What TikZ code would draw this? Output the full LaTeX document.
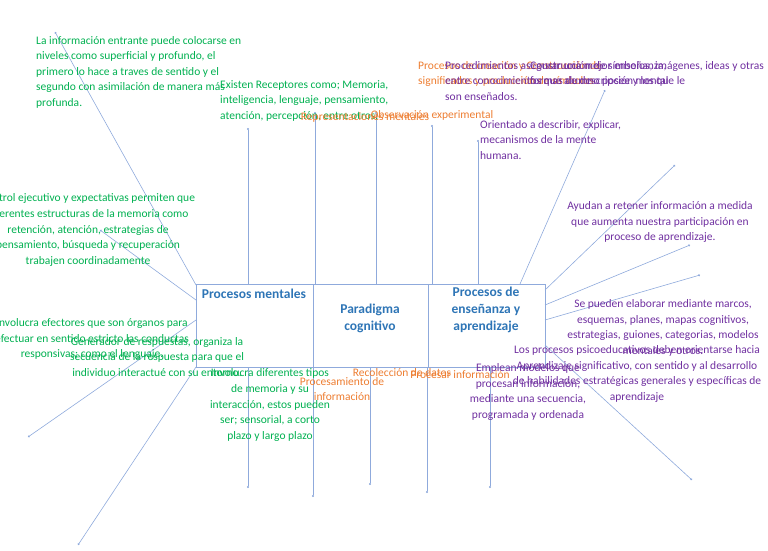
\documentclass[tikz,border=0pt]{standalone}
\usepackage{fontspec}
\usetikzlibrary{arrows.meta}
\setmainfont{Carlito}
\definecolor{gr}{RGB}{0,176,80}
\definecolor{orr}{RGB}{237,125,49}
\definecolor{pu}{RGB}{112,48,160}
\definecolor{bl}{RGB}{46,117,182}
\definecolor{ln}{RGB}{143,170,220}
\begin{document}
\begin{tikzpicture}[x=1pt,y=-1pt,
 txt/.style={font=\fontsize{11.5}{15.6}\selectfont,inner sep=0pt},
 g/.style={txt,text=gr}, o/.style={txt,text=orr}, p/.style={txt,text=pu},
 ttl/.style={font=\fontsize{13.5}{17}\selectfont\bfseries,text=bl,align=center,inner sep=0pt},
 con/.style={draw=ln,line width=0.6pt,-{Circle[length=2pt]}},
 boxl/.style={draw=ln,line width=0.8pt}]
\useasboundingbox (0,0) rectangle (768,550);
\node[boxl,minimum width=117pt,minimum height=83pt,anchor=north west] (bm) at (196,284) {};
\node[boxl,minimum width=115pt,minimum height=83pt,anchor=north west] (bp) at (313,284) {};
\node[boxl,minimum width=117pt,minimum height=83pt,anchor=north west] (be) at (428,284) {};
\node[ttl] (tm) at (254,294) {Procesos mentales};
\node[ttl] (tp) at (370,318) {Paradigma\\cognitivo};
\node[ttl] (te) at (486,310) {Procesos de\\enseñanza y\\aprendizaje};
% endpoints
\foreach \n/\x/\y in {e1/55/32,e2/100/230,e3/28/437,e4/78/545,t1/248/128,t2/315/112,t3/376/112,t4/432/125,t5/478/140,t6/605/90,r1/675/165,r2/690/245,r3/700/275,r4/692/480,b1/248/488,b2/313/497,b3/370/485,b4/427/493,b5/490/488}
 \coordinate (\n) at (\x,\y);
\draw[con] (196,285) -- (e1);
\draw[con] (196,300) -- (e2);
\draw[con] (196,320) -- (e3);
\draw[con] (196,367) -- (e4);
\draw[con] (248,284) -- (t1);
\draw[con] (315,284) -- (t2);
\draw[con] (376,284) -- (t3);
\draw[con] (432,284) -- (t4);
\draw[con] (478,284) -- (t5);
\draw[con] (520,284) -- (t6);
\draw[con] (545,290) -- (r1);
\draw[con] (545,305) -- (r2);
\draw[con] (545,320) -- (r3);
\draw[con] (545,345) -- (r4);
\draw[con] (248,367) -- (b1);
\draw[con] (313,367) -- (b2);
\draw[con] (370,367) -- (b3);
\draw[con] (427,367) -- (b4);
\draw[con] (490,367) -- (b5);
% texts
\node[g,align=left,anchor=north west] (x1) at (36,36) {La información entrante puede colocarse en\\niveles como superficial y profundo, el\\primero lo hace a traves de sentido y el\\segundo con asimilación de manera más\\profunda.};
\node[g,align=left,anchor=north west] (x2) at (220,80) {Existen Receptores como; Memoria,\\inteligencia, lenguaje, pensamiento,\\atención, percepción, entre otros.};
\node[o] (x3) at (365,117) {Representaciones mentales};
\node[o] (x4) at (432,115) {Observación experimental};
\node[o,align=left,anchor=north west] (x5) at (418,61) {Procesos de creación y Construcción de\\significados y producción de símbolos};
\node[p,align=left,anchor=north west] (x6) at (530,61) {Construcción de símbolos, imágenes, ideas y otras\\formas de descripción mental};
\node[p,align=left,anchor=north west] (x7) at (445,61) {Procedimientos asegurar una mejor enseñanza,\\entre conocimientos que alumno posee y los que le\\son enseñados.};
\node[p,align=left,anchor=north west] (x8) at (480,120) {Orientado a describir, explicar,\\mecanismos de la mente\\humana.};
\node[p,align=center] (x9) at (660,222) {Ayudan a retener información a medida\\que aumenta nuestra participación en\\proceso de aprendizaje.};
\node[g,align=center] (x10) at (88,230) {Control ejecutivo y expectativas permiten que\\diferentes estructuras de la memoria como\\retención, atención, estrategias de\\pensamiento, búsqueda y recuperación\\trabajen coordinadamente};
\node[g,align=center] (x11) at (92,339) {Involucra efectores que son órganos para\\efectuar en sentido estricto las conductas\\responsivas; como el lenguaje.};
\node[g,align=center] (x12) at (157,357) {Generador de respuestas, organiza la\\secuencia de la respuesta para que el\\individuo interactué con su entorno.};
\node[g,align=center] (x13) at (270,405) {Involucra diferentes tipos\\de memoria y su\\interacción, estos pueden\\ser; sensorial, a corto\\plazo y largo plazo};
\node[o,align=center] (x14) at (342,389) {Procesamiento de\\información};
\node[o] (x15) at (402,373) {Recolección de datos};
\node[o] (x16) at (460,375) {Procesar información};
\node[p,align=center] (x17) at (528,392) {Emplean modelos que\\procesan información,\\mediante una secuencia,\\programada y ordenada};
\node[p,align=center] (x18) at (663,328) {Se pueden elaborar mediante marcos,\\esquemas, planes, mapas cognitivos,\\estrategias, guiones, categorias, modelos\\mentales y otros.};
\node[p,align=center] (x19) at (637,374) {Los procesos psicoeducativos deben orientarse hacia\\Aprendizaje significativo, con sentido y al desarrollo\\de habilidades estratégicas generales y específicas de\\aprendizaje};
\end{tikzpicture}
\end{document}
